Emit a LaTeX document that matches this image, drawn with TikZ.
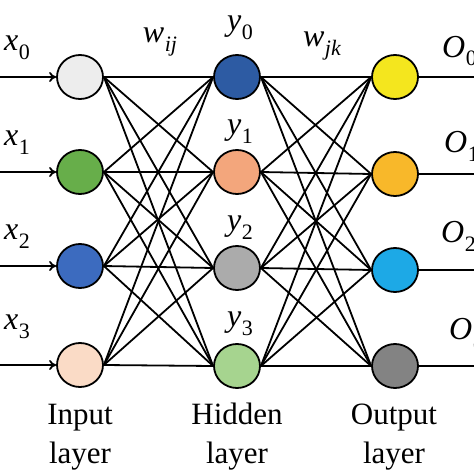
\documentclass[tikz,border=0pt]{standalone}
\usepackage{fontspec}
\setmainfont{Liberation Serif}
\usetikzlibrary{shapes.geometric,arrows.meta}
\definecolor{cA}{HTML}{EDEDED}
\definecolor{cB}{HTML}{67AE4A}
\definecolor{cC}{HTML}{3C6BBF}
\definecolor{cD}{HTML}{FADBC6}
\definecolor{cE}{HTML}{2D5BA3}
\definecolor{cF}{HTML}{F3A67C}
\definecolor{cG}{HTML}{ABABAB}
\definecolor{cH}{HTML}{A6D48F}
\definecolor{cI}{HTML}{F4E61E}
\definecolor{cJ}{HTML}{F8B82A}
\definecolor{cK}{HTML}{1DA9E6}
\definecolor{cL}{HTML}{838383}
\newcommand{\varsub}[2]{{\itshape #1}\kern0.5pt\raisebox{-0.28em}{\fontsize{22}{22}\selectfont #2}}
\begin{document}
\begin{tikzpicture}[x=1pt,y=-1pt,
  neuron/.style={ellipse,draw=black,line width=1.8pt,minimum width=46pt,minimum height=44pt,inner sep=0pt},
  edge/.style={line width=1.8pt,black},
  lbl/.style={font=\fontsize{32}{34}\selectfont,inner sep=0pt},
  layerlbl/.style={font=\fontsize{31}{39}\selectfont,align=center,inner sep=0pt}]
\useasboundingbox (0,0) rectangle (474,474);
\clip (0,0) rectangle (474,474);
% input layer
\node[neuron,fill=cA] (i0) at (80,77) {};
\node[neuron,fill=cB] (i1) at (80,172) {};
\node[neuron,fill=cC] (i2) at (80,266) {};
\node[neuron,fill=cD] (i3) at (80,365) {};
% hidden layer
\node[neuron,fill=cE] (h0) at (237,77) {};
\node[neuron,fill=cF] (h1) at (237,172) {};
\node[neuron,fill=cG] (h2) at (237,268) {};
\node[neuron,fill=cH] (h3) at (237,366) {};
% output layer
\node[neuron,fill=cI] (o0) at (395,77) {};
\node[neuron,fill=cJ] (o1) at (395,174) {};
\node[neuron,fill=cK] (o2) at (395,270) {};
\node[neuron,fill=cL] (o3) at (395,366) {};
% connections
\foreach \a in {0,...,3}{
  \foreach \b in {0,...,3}{
    \draw[edge] (i\a.east) -- (h\b.west);
    \draw[edge] (h\a.east) -- (o\b.west);
  }
}
% input arrows
\foreach \a/\y in {0/77,1/172,2/266,3/365}{
  \coordinate (s\a) at (0,\y);
  \draw[edge,-{To[length=7pt,width=10pt]}] (s\a) -- (i\a.west);
}
% output lines
\foreach \a/\y in {0/77,1/174,2/270,3/366}{
  \coordinate (e\a) at (474,\y);
  \draw[edge] (o\a.east) -- (e\a);
}
% labels
\node[lbl] (lx0) at (17,48) {\varsub{x}{0}};
\node[lbl] (lx1) at (17,143) {\varsub{x}{1}};
\node[lbl] (lx2) at (17,237) {\varsub{x}{2}};
\node[lbl] (lx3) at (17,327) {\varsub{x}{3}};
\node[lbl] (ly0) at (240,28) {\varsub{y}{0}};
\node[lbl] (ly1) at (240,132) {\varsub{y}{1}};
\node[lbl] (ly2) at (240,228) {\varsub{y}{2}};
\node[lbl] (ly3) at (240,324) {\varsub{y}{3}};
\node[lbl] (lw1) at (160,42) {\varsub{w}{\itshape ij}};
\node[lbl] (lw2) at (322,46) {\varsub{w}{\itshape jk}};
\node[lbl,anchor=west] (lo0) at (442,51) {\varsub{O}{0}};
\node[lbl,anchor=west] (lo1) at (444,146) {\varsub{O}{1}};
\node[lbl,anchor=west] (lo2) at (441,236) {\varsub{O}{2}};
\node[lbl,anchor=west] (lo3) at (449,333) {\varsub{O}{3}};
\node[layerlbl] (t1) at (80,437) {Input\\layer};
\node[layerlbl] (t2) at (237,437) {Hidden\\layer};
\node[layerlbl] (t3) at (394,437) {Output\\layer};
\end{tikzpicture}
\end{document}
